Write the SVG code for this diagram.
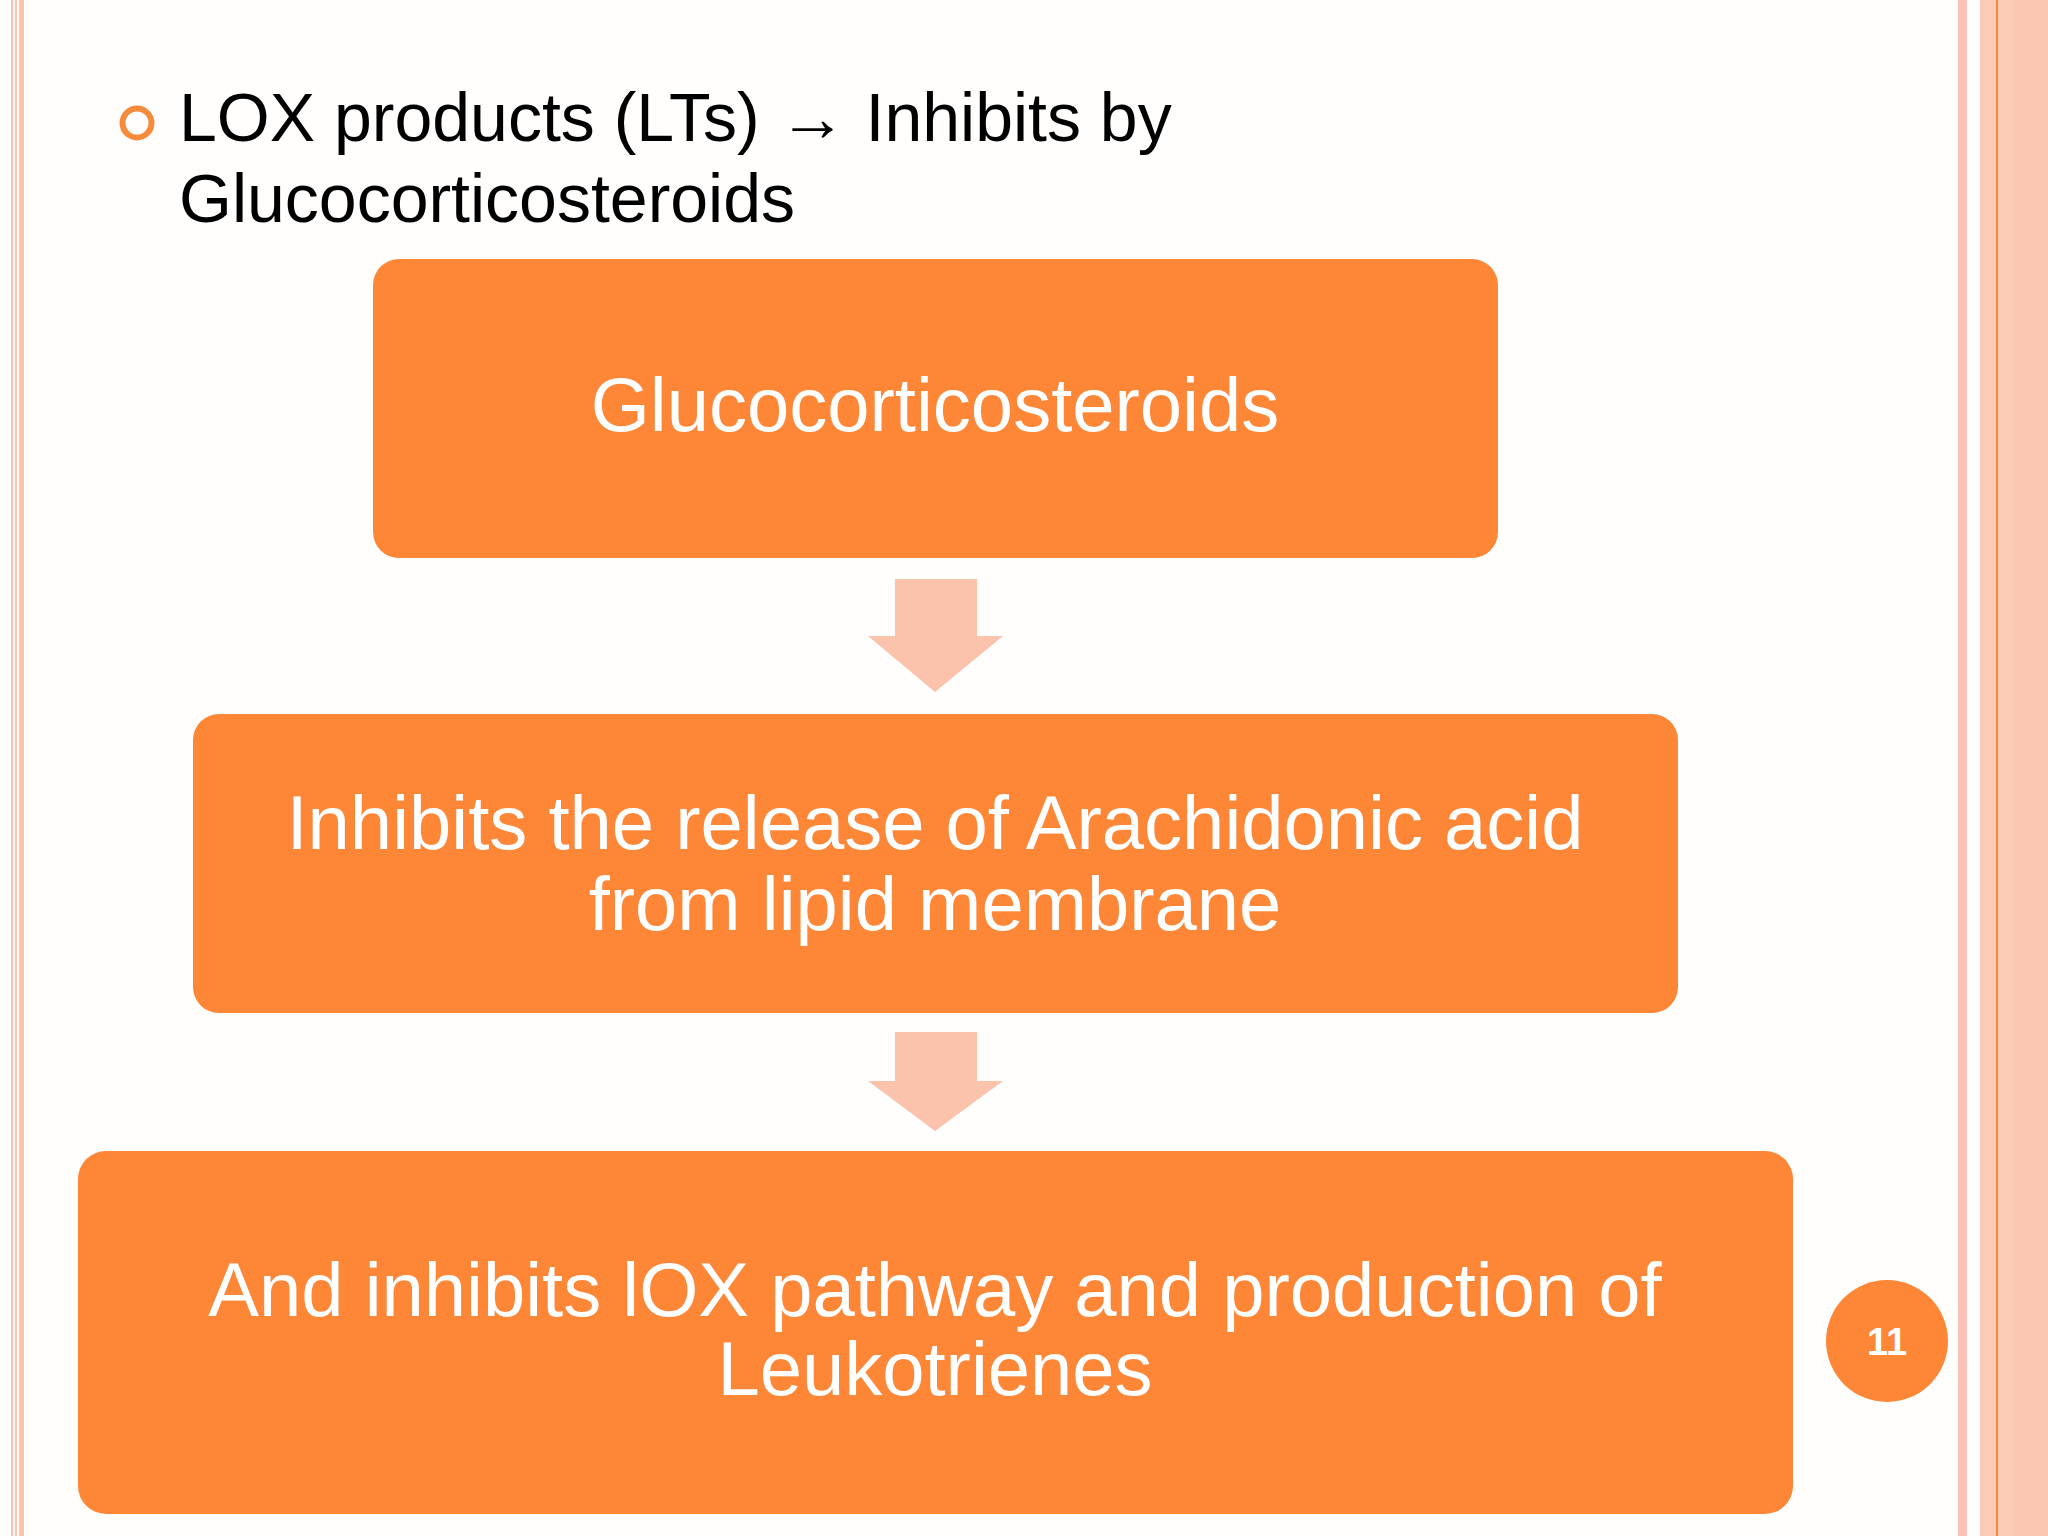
<svg xmlns="http://www.w3.org/2000/svg" width="2048" height="1536" viewBox="0 0 2048 1536">
<style>
.box{fill:#FD8637}
.arr{fill:#FCC3AC}
.bt{font-family:"Liberation Sans",Arial,sans-serif;font-size:76px;fill:#fff;text-anchor:middle}
.tt{font-family:"Liberation Sans",Arial,sans-serif;font-size:68px;fill:#000}
</style>
<rect width="2048" height="1536" fill="#FFFEFD"/>
<g id="borders">
<rect x="11" y="0" width="2" height="1536" fill="#FBC3AE"/>
<rect x="15" y="0" width="2" height="1536" fill="#FBC3AE"/>
<rect x="19" y="0" width="5" height="1536" fill="#FBC3AE"/>
<rect x="1958" y="0" width="9" height="1536" fill="#FBC3B8"/>
<rect x="1980" y="0" width="90" height="1536" fill="#FCCBB5"/>
<rect x="1996" y="0" width="2" height="1536" fill="#F58B3B"/>
<rect x="2015" y="0" width="33" height="1536" fill="#FAC8B2"/>
</g>
<g id="title">
<circle cx="137" cy="123" r="14.5" fill="none" stroke="#F58B3B" stroke-width="6"/>
<text class="tt" x="179" y="141">LOX products (LTs) → Inhibits by</text>
<text class="tt" x="179" y="222">Glucocorticosteroids</text>
</g>
<g id="node1"><rect class="box" x="373" y="259" width="1125" height="299" rx="26"/><text class="bt" x="935" y="431">Glucocorticosteroids</text></g>
<g id="node2"><rect class="box" x="193" y="714" width="1485" height="299" rx="26"/><text class="bt" x="935" y="849">Inhibits the release of Arachidonic acid</text><text class="bt" x="935" y="930">from lipid membrane</text></g>
<g id="node3"><rect class="box" x="78" y="1151" width="1715" height="363" rx="28"/><text class="bt" x="935" y="1316">And inhibits lOX pathway and production of</text><text class="bt" x="935" y="1395">Leukotrienes</text></g>
<g id="connectors">
<polygon class="arr" points="895,579 977,579 977,636 1003,636 935,692 868,636 895,636"/>
<polygon class="arr" points="895,1032 977,1032 977,1081 1003,1081 935,1131 868,1081 895,1081"/>
</g>
<g id="page"><circle cx="1887" cy="1341" r="61" fill="#FD8637"/><text x="1887" y="1355" font-family="Liberation Sans,Arial,sans-serif" font-size="38" font-weight="bold" fill="#fff" text-anchor="middle">11</text></g>
</svg>
